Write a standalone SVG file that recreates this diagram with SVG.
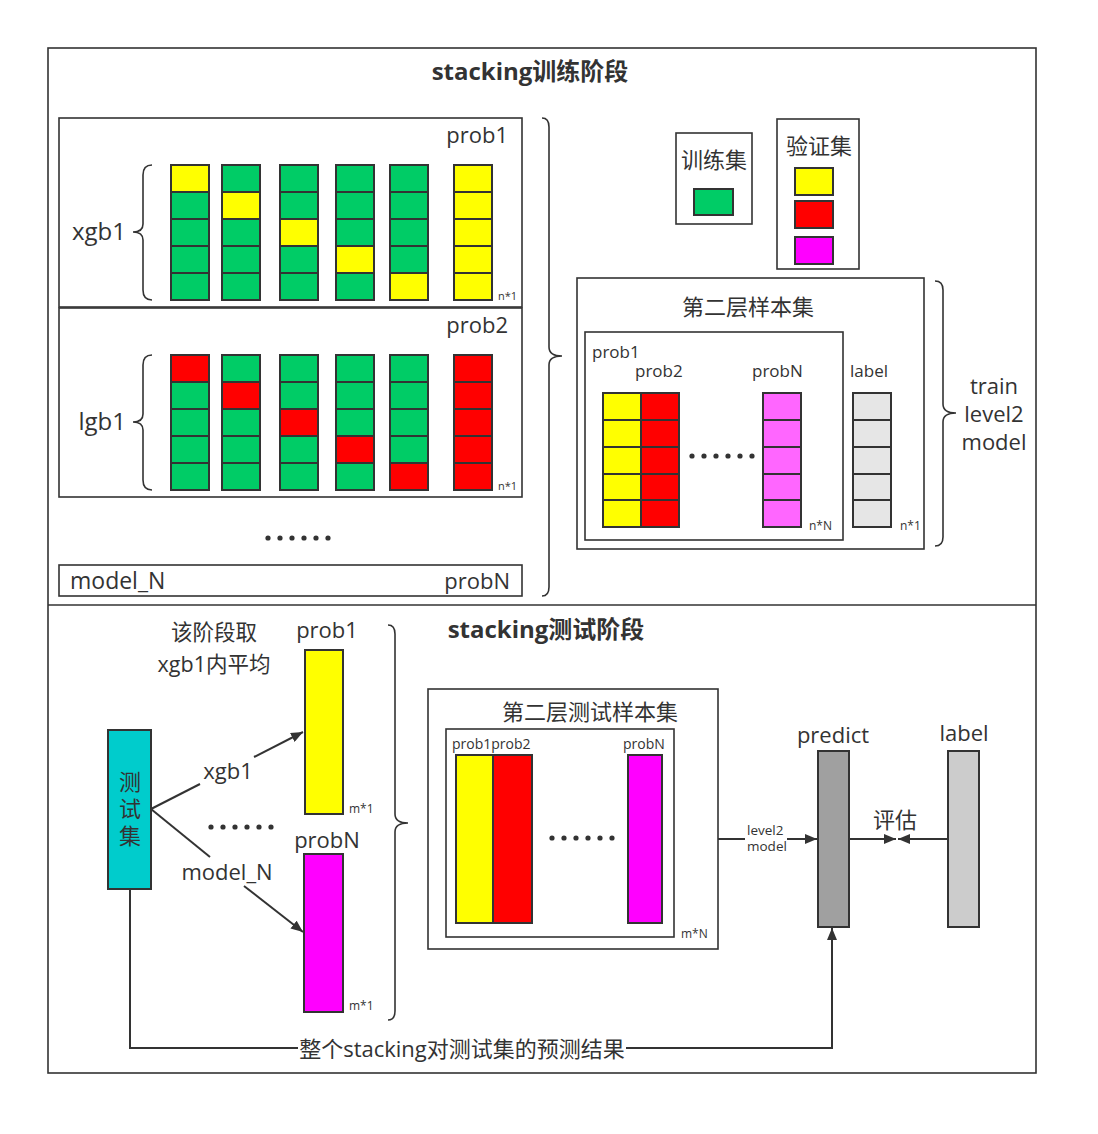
<svg xmlns="http://www.w3.org/2000/svg" width="1098" height="1134" viewBox="0 0 1098 1134">
<defs>
<marker id="ah" viewBox="0 0 12 10" refX="12" refY="5" markerWidth="12" markerHeight="10" markerUnits="userSpaceOnUse" orient="auto">
<path d="M0,0 L12,5 L0,10 Z" fill="#333"/>
</marker>
</defs>
<style>
text{font-family:"Open Sans","Noto Sans CJK SC",sans-serif;fill:#333;}
.t24{font-size:24px;}
.t22{font-size:22px;}
.t17{font-size:17px;}
.t14{font-size:14px;}
.t13{font-size:13.5px;}
.t12{font-size:12px;}
.t11{font-size:11px;}
.b{font-weight:bold;font-size:24px;}
.mid{text-anchor:middle;}
.end{text-anchor:end;}
.box{fill:#fff;stroke:#333;stroke-width:1.6;}
.c{stroke:#333;stroke-width:2;}
.g{fill:#00CC66;}
.y{fill:#FFFF00;}
.r{fill:#FF0000;}
.m{fill:#FF00FF;}
.pm{fill:#FF66FF;}
.lg{fill:#E6E6E6;}
.br{fill:none;stroke:#333;stroke-width:1.6;}
.ln{fill:none;stroke:#333;stroke-width:2;}
</style>
<rect x="0" y="0" width="1098" height="1134" fill="#fff"/>

<g id="outer">
<rect x="48" y="48" width="988" height="1025" class="box"/>
<line x1="48" y1="605" x2="1036" y2="605" stroke="#333" stroke-width="1.6"/>
</g>

<g id="train-title"><text x="530" y="80" class="b mid">stacking训练阶段</text></g>

<g id="xgb1-box">
<rect x="59" y="118" width="463" height="189" class="box"/>
<text x="508" y="143" class="t22 end">prob1</text>
<text x="126" y="240" class="t24 end">xgb1</text>
<path class="br" d="M152,165 Q143,165 143,175 L143,224 Q143,232 133,232 Q143,232 143,240 L143,290 Q143,300 152,300"/>
<g class="c">
<rect x="171" y="165" width="38" height="27" class="y"/><rect x="171" y="192" width="38" height="27" class="g"/><rect x="171" y="219" width="38" height="27" class="g"/><rect x="171" y="246" width="38" height="27" class="g"/><rect x="171" y="273" width="38" height="27" class="g"/>
<rect x="222" y="165" width="38" height="27" class="g"/><rect x="222" y="192" width="38" height="27" class="y"/><rect x="222" y="219" width="38" height="27" class="g"/><rect x="222" y="246" width="38" height="27" class="g"/><rect x="222" y="273" width="38" height="27" class="g"/>
<rect x="280" y="165" width="38" height="27" class="g"/><rect x="280" y="192" width="38" height="27" class="g"/><rect x="280" y="219" width="38" height="27" class="y"/><rect x="280" y="246" width="38" height="27" class="g"/><rect x="280" y="273" width="38" height="27" class="g"/>
<rect x="336" y="165" width="38" height="27" class="g"/><rect x="336" y="192" width="38" height="27" class="g"/><rect x="336" y="219" width="38" height="27" class="g"/><rect x="336" y="246" width="38" height="27" class="y"/><rect x="336" y="273" width="38" height="27" class="g"/>
<rect x="390" y="165" width="38" height="27" class="g"/><rect x="390" y="192" width="38" height="27" class="g"/><rect x="390" y="219" width="38" height="27" class="g"/><rect x="390" y="246" width="38" height="27" class="g"/><rect x="390" y="273" width="38" height="27" class="y"/>
<rect x="454" y="165" width="38" height="27" class="y"/><rect x="454" y="192" width="38" height="27" class="y"/><rect x="454" y="219" width="38" height="27" class="y"/><rect x="454" y="246" width="38" height="27" class="y"/><rect x="454" y="273" width="38" height="27" class="y"/>
</g>
<text x="498" y="300" class="t11">n*1</text>
</g>

<g id="lgb1-box">
<rect x="59" y="308" width="463" height="189" class="box"/>
<text x="508" y="333" class="t22 end">prob2</text>
<text x="126" y="430" class="t24 end">lgb1</text>
<path class="br" d="M152,355 Q143,355 143,365 L143,414 Q143,422 133,422 Q143,422 143,430 L143,480 Q143,490 152,490"/>
<g class="c">
<rect x="171" y="355" width="38" height="27" class="r"/><rect x="171" y="382" width="38" height="27" class="g"/><rect x="171" y="409" width="38" height="27" class="g"/><rect x="171" y="436" width="38" height="27" class="g"/><rect x="171" y="463" width="38" height="27" class="g"/>
<rect x="222" y="355" width="38" height="27" class="g"/><rect x="222" y="382" width="38" height="27" class="r"/><rect x="222" y="409" width="38" height="27" class="g"/><rect x="222" y="436" width="38" height="27" class="g"/><rect x="222" y="463" width="38" height="27" class="g"/>
<rect x="280" y="355" width="38" height="27" class="g"/><rect x="280" y="382" width="38" height="27" class="g"/><rect x="280" y="409" width="38" height="27" class="r"/><rect x="280" y="436" width="38" height="27" class="g"/><rect x="280" y="463" width="38" height="27" class="g"/>
<rect x="336" y="355" width="38" height="27" class="g"/><rect x="336" y="382" width="38" height="27" class="g"/><rect x="336" y="409" width="38" height="27" class="g"/><rect x="336" y="436" width="38" height="27" class="r"/><rect x="336" y="463" width="38" height="27" class="g"/>
<rect x="390" y="355" width="38" height="27" class="g"/><rect x="390" y="382" width="38" height="27" class="g"/><rect x="390" y="409" width="38" height="27" class="g"/><rect x="390" y="436" width="38" height="27" class="g"/><rect x="390" y="463" width="38" height="27" class="r"/>
<rect x="454" y="355" width="38" height="27" class="r"/><rect x="454" y="382" width="38" height="27" class="r"/><rect x="454" y="409" width="38" height="27" class="r"/><rect x="454" y="436" width="38" height="27" class="r"/><rect x="454" y="463" width="38" height="27" class="r"/>
</g>
<text x="498" y="490" class="t11">n*1</text>
</g>

<g id="dots-top" fill="#333">
<circle cx="268" cy="538" r="2.6"/><circle cx="280" cy="538" r="2.6"/><circle cx="292" cy="538" r="2.6"/><circle cx="304" cy="538" r="2.6"/><circle cx="316" cy="538" r="2.6"/><circle cx="328" cy="538" r="2.6"/>
</g>

<g id="modelN-box">
<rect x="59" y="565" width="463" height="31" class="box"/>
<text x="70" y="589" class="t22" style="font-size:23px">model_N</text>
<text x="510" y="589" class="t22 end">probN</text>
</g>

<g id="brace-left-boxes"><path class="br" d="M542,118 Q549,118 549,127 L549,347 Q549,356 562,356 Q549,356 549,365 L549,587 Q549,596 542,596"/></g>

<g id="train-set">
<rect x="676" y="133" width="76" height="91" class="box"/>
<text x="714" y="168" class="t22 mid">训练集</text>
<rect x="694" y="189" width="39" height="26" class="g c"/>
</g>

<g id="valid-set">
<rect x="777" y="119" width="82" height="150" class="box"/>
<text x="819" y="154" class="t22 mid">验证集</text>
<rect x="795" y="168" width="38" height="27" class="y c"/>
<rect x="795" y="201" width="38" height="27" class="r c"/>
<rect x="795" y="237" width="38" height="27" class="m c"/>
</g>

<g id="level2-train">
<rect x="577" y="278" width="347" height="271" class="box"/>
<text x="748" y="315" class="t22 mid">第二层样本集</text>
<rect x="585" y="332" width="258" height="208" class="box"/>
<text x="592" y="358" class="t17">prob1</text>
<text x="635" y="377" class="t17">prob2</text>
<text x="752" y="377" class="t17">probN</text>
<text x="850" y="377" class="t17">label</text>
<g class="c">
<rect x="603" y="393" width="38" height="27" class="y"/><rect x="603" y="420" width="38" height="27" class="y"/><rect x="603" y="447" width="38" height="27" class="y"/><rect x="603" y="474" width="38" height="26" class="y"/><rect x="603" y="500" width="38" height="27" class="y"/>
<rect x="641" y="393" width="38" height="27" class="r"/><rect x="641" y="420" width="38" height="27" class="r"/><rect x="641" y="447" width="38" height="27" class="r"/><rect x="641" y="474" width="38" height="26" class="r"/><rect x="641" y="500" width="38" height="27" class="r"/>
<rect x="763" y="393" width="38" height="27" class="pm"/><rect x="763" y="420" width="38" height="27" class="pm"/><rect x="763" y="447" width="38" height="27" class="pm"/><rect x="763" y="474" width="38" height="26" class="pm"/><rect x="763" y="500" width="38" height="27" class="pm"/>
<rect x="853" y="393" width="38" height="27" class="lg"/><rect x="853" y="420" width="38" height="27" class="lg"/><rect x="853" y="447" width="38" height="27" class="lg"/><rect x="853" y="474" width="38" height="26" class="lg"/><rect x="853" y="500" width="38" height="27" class="lg"/>
</g>
<g fill="#333">
<circle cx="692" cy="456" r="2.6"/><circle cx="704" cy="456" r="2.6"/><circle cx="716" cy="456" r="2.6"/><circle cx="728" cy="456" r="2.6"/><circle cx="740" cy="456" r="2.6"/><circle cx="752" cy="456" r="2.6"/>
</g>
<text x="809" y="530" class="t12">n*N</text>
<text x="900" y="530" class="t12">n*1</text>
</g>

<g id="train-level2">
<path class="br" d="M935,281 Q943,281 943,290 L943,404 Q943,413 956,413 Q943,413 943,422 L943,537 Q943,546 935,546"/>
<text x="994" y="394" class="t22 mid">train</text>
<text x="994" y="422" class="t22 mid">level2</text>
<text x="994" y="450" class="t22 mid">model</text>
</g>

<g id="test-title"><text x="546" y="638" class="b mid">stacking测试阶段</text></g>

<g id="note">
<text x="214" y="640" class="mid" style="font-size:21.5px">该阶段取</text>
<text x="214" y="672" class="mid" style="font-size:21.5px">xgb1内平均</text>
</g>

<g id="test-set">
<rect x="108" y="730" width="43" height="159" fill="#00CCCC" stroke="#333" stroke-width="2"/>
<text x="129" y="771" class="t22" style="writing-mode:vertical-rl;text-orientation:upright;letter-spacing:5px">测试集</text>
</g>

<g id="prob1-test">
<text x="327" y="638" class="t22 mid">prob1</text>
<rect x="305" y="650" width="38" height="164" class="y c"/>
<text x="349" y="813" class="t12">m*1</text>
</g>

<g id="probN-test">
<text x="327" y="848" class="t22 mid">probN</text>
<rect x="304" y="854" width="39" height="158" class="m c"/>
<text x="349" y="1010" class="t12">m*1</text>
</g>

<g id="dots-test" fill="#333">
<circle cx="211" cy="827" r="2.6"/><circle cx="223" cy="827" r="2.6"/><circle cx="235" cy="827" r="2.6"/><circle cx="247" cy="827" r="2.6"/><circle cx="259" cy="827" r="2.6"/><circle cx="271" cy="827" r="2.6"/>
</g>

<g id="brace-test"><path class="br" d="M388,625 Q395,625 395,634 L395,814 Q395,823 408,823 Q395,823 395,832 L395,1011 Q395,1020 388,1020"/></g>

<g id="level2-test">
<rect x="428" y="689" width="290" height="260" class="box"/>
<text x="590" y="720" class="t22 mid">第二层测试样本集</text>
<rect x="446" y="729" width="228" height="208" class="box"/>
<text x="452" y="749" class="t14">prob1prob2</text>
<text x="623" y="749" class="t14">probN</text>
<rect x="456" y="755" width="37" height="168" class="y c"/>
<rect x="493" y="755" width="39" height="168" class="r c"/>
<rect x="628" y="755" width="34" height="168" class="m c"/>
<g fill="#333">
<circle cx="552" cy="838" r="2.6"/><circle cx="564" cy="838" r="2.6"/><circle cx="576" cy="838" r="2.6"/><circle cx="588" cy="838" r="2.6"/><circle cx="600" cy="838" r="2.6"/><circle cx="612" cy="838" r="2.6"/>
</g>
<text x="681" y="938" class="t12">m*N</text>
</g>

<g id="predict">
<text x="833" y="743" class="t22 mid">predict</text>
<rect x="818" y="751" width="31" height="176" fill="#A0A0A0" stroke="#333" stroke-width="2"/>
</g>

<g id="label-test">
<text x="964" y="741" class="t22 mid">label</text>
<rect x="948" y="751" width="31" height="176" fill="#CCCCCC" stroke="#333" stroke-width="2"/>
</g>

<g id="connectors">
<line x1="151" y1="809" x2="200" y2="784" class="ln"/>
<line x1="254" y1="757" x2="303" y2="732" class="ln" marker-end="url(#ah)"/>
<text x="228" y="779" class="t22 mid">xgb1</text>
<line x1="151" y1="809" x2="210" y2="857" class="ln"/>
<line x1="244" y1="886" x2="303" y2="932" class="ln" marker-end="url(#ah)"/>
<text x="227" y="880" class="t22 mid">model_N</text>
<line x1="718" y1="839" x2="745" y2="839" class="ln"/>
<line x1="787" y1="839" x2="817" y2="839" class="ln" marker-end="url(#ah)"/>
<text x="747" y="835" class="t13"><tspan x="747" y="835">level2</tspan><tspan x="747" y="851">model</tspan></text>
<line x1="849" y1="839" x2="896" y2="839" class="ln" marker-end="url(#ah)"/>
<line x1="948" y1="839" x2="898" y2="839" class="ln" marker-end="url(#ah)"/>
<text x="895" y="828" class="t22 mid">评估</text>
<path d="M130,889 L130,1048 L832,1048 L832,928" class="ln" marker-end="url(#ah)"/>
<rect x="298" y="1036" width="328" height="26" fill="#fff"/>
<text x="462" y="1057" class="t22 mid">整个stacking对测试集的预测结果</text>
</g>
</svg>
